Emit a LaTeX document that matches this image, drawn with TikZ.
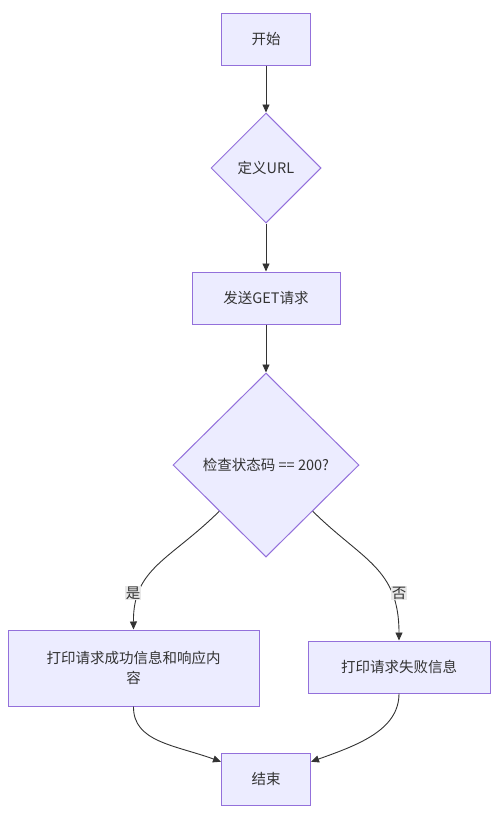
\documentclass[tikz,border=0pt]{standalone}
\usepackage{fontspec}
\setmainfont{Noto Sans CJK SC}
\usetikzlibrary{shapes.geometric,arrows.meta}
\definecolor{Lila}{HTML}{ECECFF}
\definecolor{Borde}{HTML}{9370DB}
\definecolor{Tinta}{HTML}{333333}
\definecolor{Etiq}{HTML}{E8E8E8}

\begin{document}
\begin{tikzpicture}[
    x=1pt,y=-1pt,
    every node/.style={font=\fontsize{14.5}{20}\selectfont,text=Tinta,align=center},
    stepbox/.style={draw=Borde,fill=Lila,line width=1pt,inner sep=0pt},
    choice/.style={diamond,draw=Borde,fill=Lila,line width=1pt,inner sep=1pt},
    flow/.style={draw=Tinta,line width=0.9pt,-{Triangle[length=8pt,width=7pt]}},
    tag/.style={fill=Etiq,inner sep=1pt}
  ]
    \useasboundingbox (0,0) rectangle (498,819);
    \node[stepbox,minimum width=89pt,minimum height=52pt] (start) at (266,39) {开始};
    \node[choice,minimum width=110pt,minimum height=110pt] (url) at (266,168) {定义URL};
    \node[stepbox,minimum width=148pt,minimum height=52pt] (get) at (266,298) {发送GET请求};
    \node[choice,minimum width=186pt,minimum height=184pt] (check) at (266,465) {检查状态码 == 200?};
    \node[stepbox,minimum width=251pt,minimum height=76pt] (ok) at (133.5,668) {打印请求成功信息和响应内\\容};
    \node[stepbox,minimum width=182pt,minimum height=52pt] (fail) at (399,667) {打印请求失败信息};
    \node[stepbox,minimum width=89pt,minimum height=52pt] (stop) at (266,779) {结束};
    \draw[flow] (start) -- (url);
    \draw[flow] (url) -- (get);
    \draw[flow] (get) -- (check);
    \draw[flow] (check.south west) .. controls (170,560) and (133,568) .. (ok.north)
      node[tag] at (133,593) {是};
    \draw[flow] (check.south east) .. controls (362,560) and (399,568) .. (fail.north)
      node[tag] at (399,593) {否};
    \draw[flow] (ok.south) .. controls (133,742) and (175,745) .. (stop.159);
    \draw[flow] (fail.south) .. controls (399,730) and (358,745) .. (stop.21);
  \end{tikzpicture}
\end{document}
